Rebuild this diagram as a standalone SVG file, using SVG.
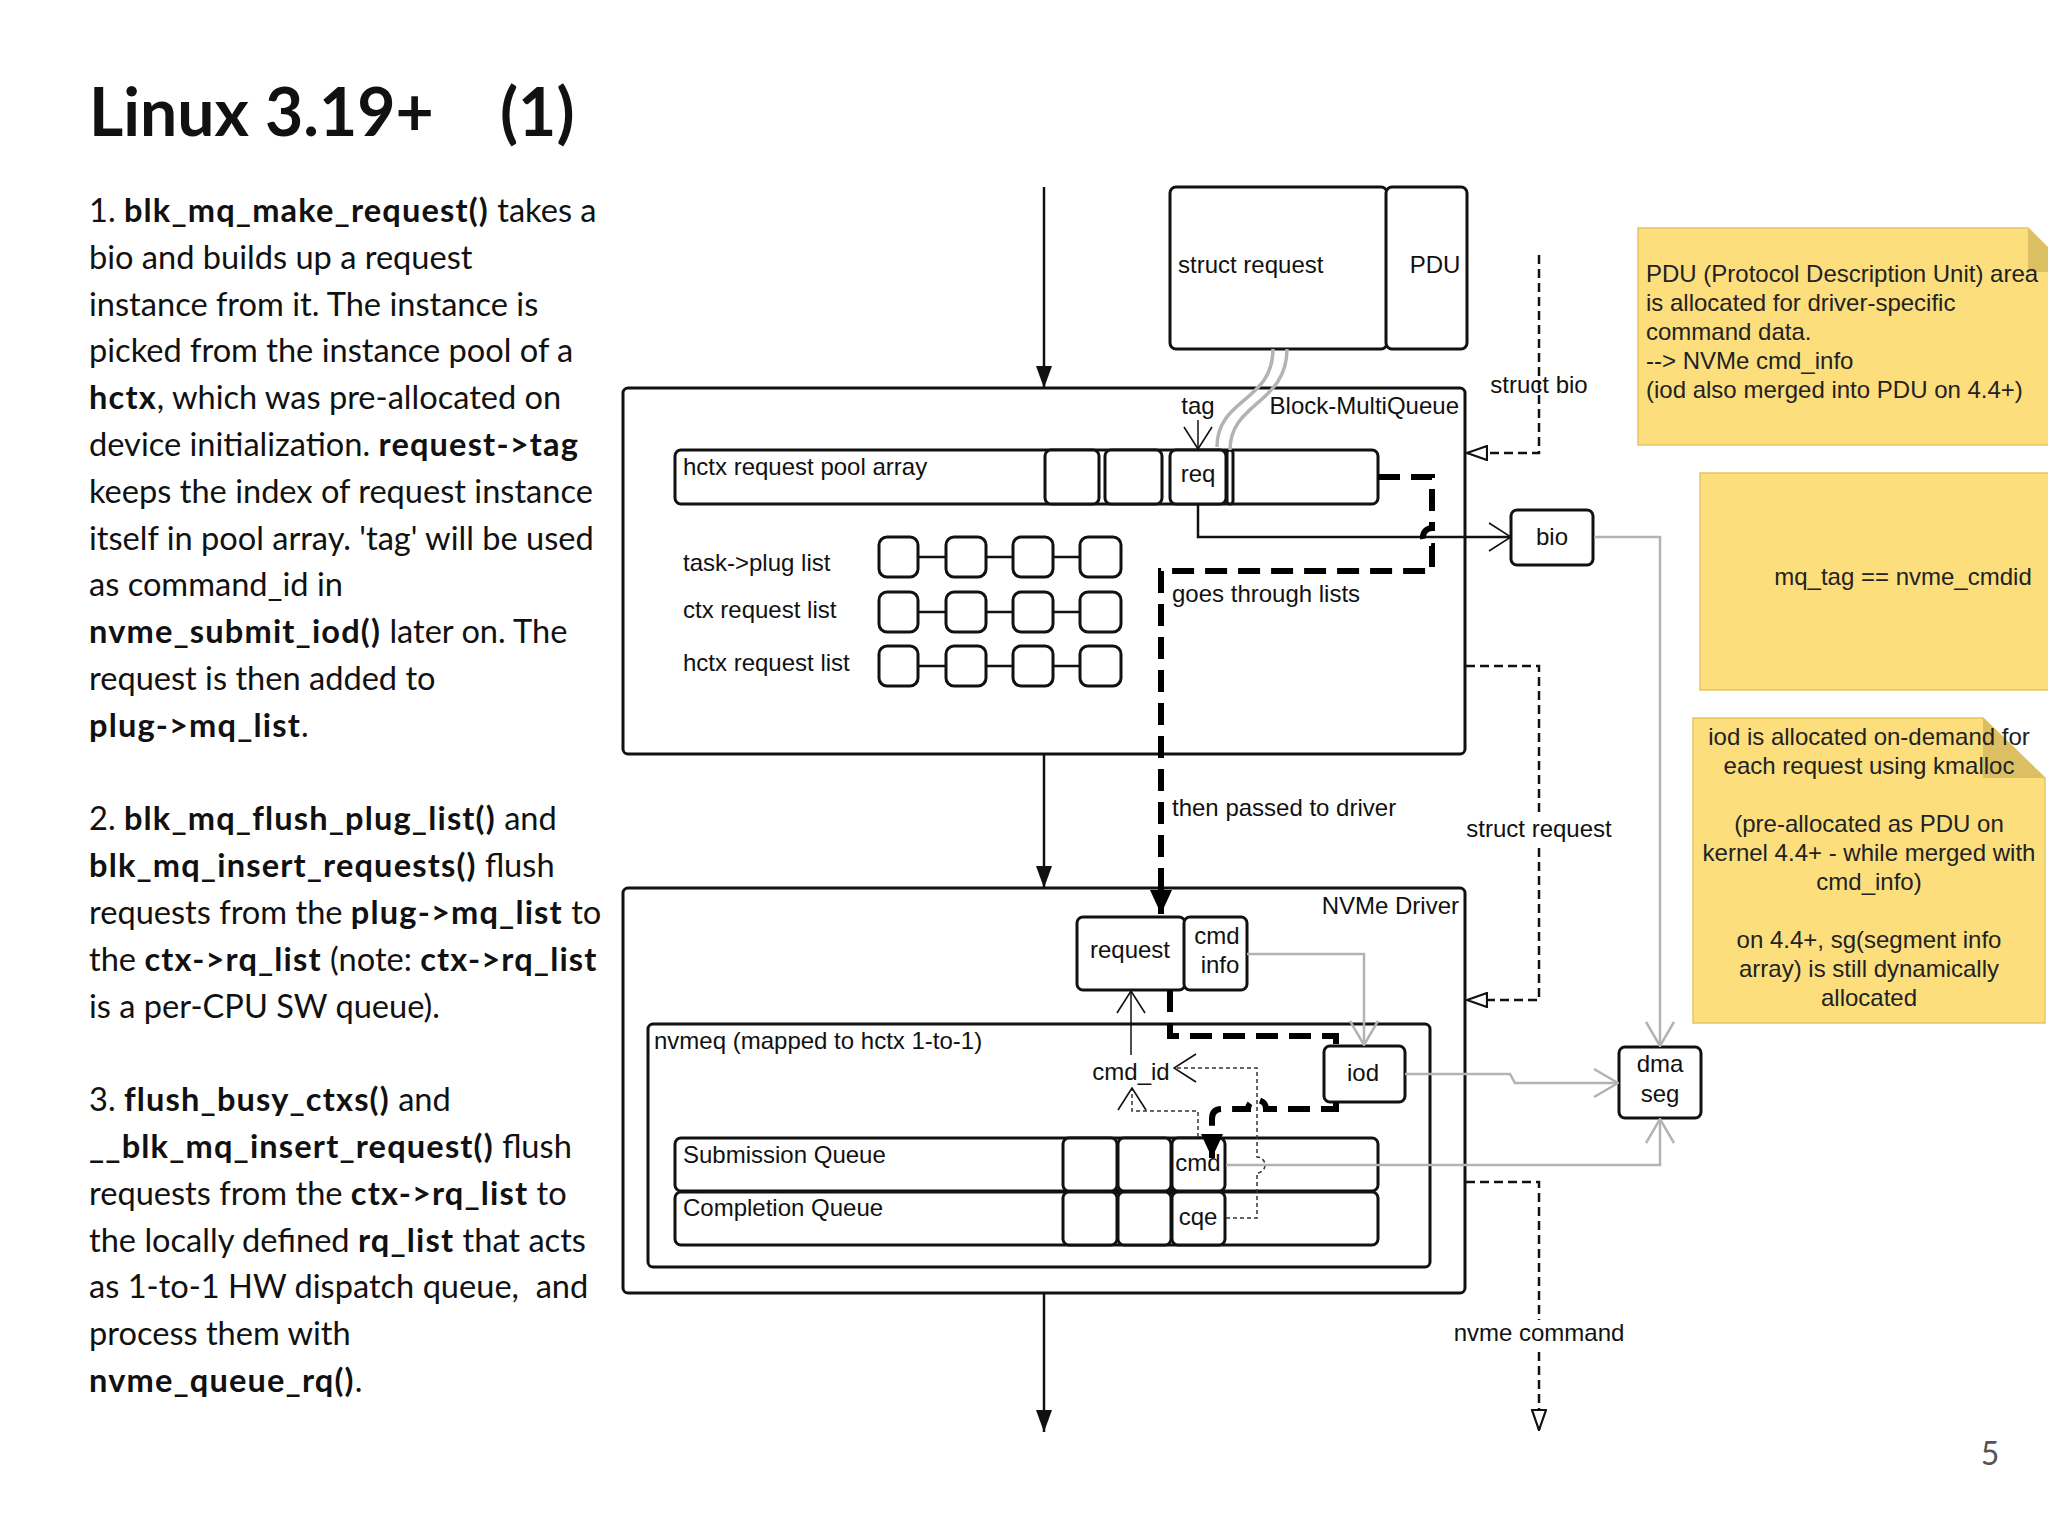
<svg xmlns="http://www.w3.org/2000/svg" width="2048" height="1536" viewBox="0 0 2048 1536">
<defs>
<style>
.title{font-family:Lato,"Noto Sans",sans-serif;font-size:66px;font-weight:700;fill:#111}
.body{font-family:Lato,"Noto Sans",sans-serif;font-size:32.6px;fill:#111}
.b{font-weight:700;letter-spacing:1.15px}
.d{font-family:"Liberation Sans",Arial,sans-serif;font-size:24px;fill:#111}
.m{text-anchor:middle}
.e{text-anchor:end}
.box{fill:#fff;stroke:#111;stroke-width:3}
.ln{fill:none;stroke:#111;stroke-width:2.5}
.thin{fill:none;stroke:#111;stroke-width:1.5}
.gray{fill:none;stroke:#b3b3b3;stroke-width:2.5}
.dash{fill:none;stroke:#111;stroke-width:2.5;stroke-dasharray:9 5}
.dot{fill:none;stroke:#333;stroke-width:1.5;stroke-dasharray:4 3}
.thick{fill:none;stroke:#000;stroke-width:6;stroke-dasharray:22 11}
.note{fill:#fcde7c;stroke:#e6c560;stroke-width:1.5}
.fold{fill:#dcbf62}
.ntxt{font-family:"Liberation Sans",Arial,sans-serif;font-size:24px;fill:#222}
</style>
<marker id="fa" viewBox="0 0 22 16" refX="22" refY="8" markerWidth="22" markerHeight="16" markerUnits="userSpaceOnUse" orient="auto"><path d="M0,0 L22,8 L0,16 z" fill="#111"/></marker>
<marker id="fb" viewBox="0 0 24 22" refX="24" refY="11" markerWidth="24" markerHeight="22" markerUnits="userSpaceOnUse" orient="auto"><path d="M0,0 L24,11 L0,22 z" fill="#000"/></marker>
<marker id="vb" viewBox="0 0 24 30" refX="23" refY="15" markerWidth="24" markerHeight="30" markerUnits="userSpaceOnUse" orient="auto"><path d="M1,1 L23,15 L1,29" fill="none" stroke="#111" stroke-width="1.6"/></marker>
<marker id="vg" viewBox="0 0 26 30" refX="25" refY="15" markerWidth="26" markerHeight="30" markerUnits="userSpaceOnUse" orient="auto"><path d="M1,1 L25,15 L1,29" fill="none" stroke="#b3b3b3" stroke-width="2.5"/></marker>
<marker id="ht" viewBox="0 0 22 16" refX="21" refY="8" markerWidth="22" markerHeight="16" markerUnits="userSpaceOnUse" orient="auto"><path d="M1,1 L21,8 L1,15 z" fill="#fff" stroke="#111" stroke-width="2.2"/></marker>
</defs>
<rect width="2048" height="1536" fill="#fff"/>

<g id="text-left">
<text class="title" x="89" y="136">Linux 3.19+</text>
<text class="title" x="500" y="136">(1)</text>
<text class="body" x="89" y="222">1. <tspan class="b">blk_mq_make_request()</tspan> takes a</text>
<text class="body" x="89" y="268.8">bio and builds up a request</text>
<text class="body" x="89" y="315.6">instance from it. The instance is</text>
<text class="body" x="89" y="362.4">picked from the instance pool of a</text>
<text class="body" x="89" y="409.2"><tspan class="b">hctx</tspan>, which was pre-allocated on</text>
<text class="body" x="89" y="456">device initialization. <tspan class="b">request-&gt;tag</tspan></text>
<text class="body" x="89" y="502.8">keeps the index of request instance</text>
<text class="body" x="89" y="549.6">itself in pool array. 'tag' will be used</text>
<text class="body" x="89" y="596.4">as command_id in</text>
<text class="body" x="89" y="643.2"><tspan class="b">nvme_submit_iod()</tspan> later on. The</text>
<text class="body" x="89" y="690">request is then added to</text>
<text class="body" x="89" y="736.8"><tspan class="b">plug-&gt;mq_list</tspan>.</text>
<text class="body" x="89" y="830.4">2. <tspan class="b">blk_mq_flush_plug_list()</tspan> and</text>
<text class="body" x="89" y="877.2"><tspan class="b">blk_mq_insert_requests()</tspan> flush</text>
<text class="body" x="89" y="924">requests from the <tspan class="b">plug-&gt;mq_list</tspan> to</text>
<text class="body" x="89" y="970.8">the <tspan class="b">ctx-&gt;rq_list</tspan> (note: <tspan class="b">ctx-&gt;rq_list</tspan></text>
<text class="body" x="89" y="1017.6">is a per-CPU SW queue).</text>
<text class="body" x="89" y="1111.2">3. <tspan class="b">flush_busy_ctxs()</tspan> and</text>
<text class="body" x="89" y="1158"><tspan class="b">__blk_mq_insert_request()</tspan> flush</text>
<text class="body" x="89" y="1204.8">requests from the <tspan class="b">ctx-&gt;rq_list</tspan> to</text>
<text class="body" x="89" y="1251.6">the locally defined <tspan class="b">rq_list</tspan> that acts</text>
<text class="body" x="89" y="1298.4">as 1-to-1 HW dispatch queue,&#160; and</text>
<text class="body" x="89" y="1345.2">process them with</text>
<text class="body" x="89" y="1392"><tspan class="b">nvme_queue_rq()</tspan>.</text>
<text x="1990" y="1465" style="font-family:Lato,sans-serif;font-size:32px;fill:#555" text-anchor="middle">5</text>
</g>

<g id="block-mq">
<rect class="box" x="623" y="388" width="842" height="366" rx="5"/>
<text class="d e" x="1459" y="414">Block-MultiQueue</text>
<text class="d m" x="1198" y="414">tag</text>
</g>

<g id="pool-array">
<rect class="box" x="675" y="450" width="703" height="54" rx="6"/>
<rect class="box" x="1045" y="450" width="54" height="54" rx="6"/>
<rect class="box" x="1105" y="450" width="57" height="54" rx="6"/>
<rect class="box" x="1170" y="450" width="56" height="54" rx="6"/>
<rect class="box" x="1227" y="450" width="6" height="54" rx="3"/>
<text class="d" x="683" y="475">hctx request pool array</text>
<text class="d m" x="1198" y="482">req</text>
</g>

<g id="lists">
<text class="d" x="683" y="571">task-&gt;plug list</text>
<text class="d" x="683" y="618">ctx request list</text>
<text class="d" x="683" y="671">hctx request list</text>
<path class="ln" d="M918,557 H946 M986,557 H1013 M1053,557 H1080 M918,612 H946 M986,612 H1013 M1053,612 H1080 M918,666 H946 M986,666 H1013 M1053,666 H1080"/>
<rect class="box" x="879" y="537" width="39" height="40" rx="8"/>
<rect class="box" x="946" y="537" width="40" height="40" rx="8"/>
<rect class="box" x="1013" y="537" width="40" height="40" rx="8"/>
<rect class="box" x="1080" y="537" width="41" height="40" rx="8"/>
<rect class="box" x="879" y="592" width="39" height="40" rx="8"/>
<rect class="box" x="946" y="592" width="40" height="40" rx="8"/>
<rect class="box" x="1013" y="592" width="40" height="40" rx="8"/>
<rect class="box" x="1080" y="592" width="41" height="40" rx="8"/>
<rect class="box" x="879" y="646" width="39" height="40" rx="8"/>
<rect class="box" x="946" y="646" width="40" height="40" rx="8"/>
<rect class="box" x="1013" y="646" width="40" height="40" rx="8"/>
<rect class="box" x="1080" y="646" width="41" height="40" rx="8"/>
</g>

<g id="struct-request">
<rect class="box" x="1170" y="187" width="217" height="162" rx="6"/>
<rect class="box" x="1386" y="187" width="81" height="162" rx="6"/>
<text class="d" x="1178" y="273">struct request</text>
<text class="d m" x="1435" y="273">PDU</text>
</g>

<g id="bio">
<rect class="box" x="1511" y="510" width="82" height="55" rx="6"/>
<text class="d m" x="1552" y="545">bio</text>
</g>

<g id="nvme-driver">
<rect class="box" x="623" y="888" width="842" height="405" rx="5"/>
<text class="d e" x="1459" y="914">NVMe Driver</text>
</g>

<g id="nvme-request">
<rect class="box" x="1077" y="917" width="108" height="73" rx="6"/>
<rect class="box" x="1184" y="917" width="63" height="73" rx="6"/>
<text class="d m" x="1130" y="958">request</text>
<text class="d m" x="1217" y="944">cmd</text>
<text class="d m" x="1220" y="973">info</text>
</g>

<g id="nvmeq">
<rect class="box" x="648" y="1024" width="782" height="243" rx="5"/>
<text class="d" x="654" y="1049">nvmeq (mapped to hctx 1-to-1)</text>
</g>

<g id="iod">
<rect class="box" x="1324" y="1046" width="81" height="56" rx="6"/>
<text class="d m" x="1363" y="1081">iod</text>
</g>

<g id="queues">
<rect class="box" x="675" y="1138" width="703" height="53" rx="6"/>
<rect class="box" x="675" y="1192" width="703" height="53" rx="6"/>
<rect class="box" x="1063" y="1138" width="54" height="53" rx="6"/>
<rect class="box" x="1118" y="1138" width="53" height="53" rx="6"/>
<rect class="box" x="1172" y="1138" width="53" height="53" rx="6"/>
<rect class="box" x="1063" y="1192" width="54" height="53" rx="6"/>
<rect class="box" x="1118" y="1192" width="53" height="53" rx="6"/>
<rect class="box" x="1172" y="1192" width="53" height="53" rx="6"/>
<circle cx="1117.5" cy="1191.5" r="3" fill="#111"/>
<circle cx="1171.5" cy="1191.5" r="3" fill="#111"/>
<text class="d" x="683" y="1163">Submission Queue</text>
<text class="d" x="683" y="1216">Completion Queue</text>
<text class="d m" x="1198" y="1171">cmd</text>
<text class="d m" x="1198" y="1225">cqe</text>
</g>

<g id="dma-seg">
<rect class="box" x="1619" y="1047" width="82" height="71" rx="6"/>
<text class="d m" x="1660" y="1072">dma</text>
<text class="d m" x="1660" y="1102">seg</text>
</g>

<g id="notes">
<path class="note" d="M1638,228 H2028 L2072,272 V445 H1638 Z"/>
<path class="fold" d="M2028,228 V272 H2072 Z"/>
<text class="ntxt" x="1646" y="282">PDU (Protocol Description Unit) area</text>
<text class="ntxt" x="1646" y="311">is allocated for driver-specific</text>
<text class="ntxt" x="1646" y="340">command data.</text>
<text class="ntxt" x="1646" y="369">--&gt; NVMe cmd_info</text>
<text class="ntxt" x="1646" y="398">(iod also merged into PDU on 4.4+)</text>
<path class="note" d="M1700,473 H2070 V690 H1700 Z"/>
<text class="ntxt m" x="1903" y="585">mq_tag == nvme_cmdid</text>
<path class="note" d="M1693,718 H1983 L2045,778 V1023 H1693 Z"/>
<path class="fold" d="M1983,718 V778 H2045 Z"/>
<text class="ntxt m" x="1869" y="745">iod is allocated on-demand for</text>
<text class="ntxt m" x="1869" y="774">each request using kmalloc</text>
<text class="ntxt m" x="1869" y="832">(pre-allocated as PDU on</text>
<text class="ntxt m" x="1869" y="861">kernel 4.4+ - while merged with</text>
<text class="ntxt m" x="1869" y="890">cmd_info)</text>
<text class="ntxt m" x="1869" y="948">on 4.4+, sg(segment info</text>
<text class="ntxt m" x="1869" y="977">array) is still dynamically</text>
<text class="ntxt m" x="1869" y="1006">allocated</text>
</g>

<g id="connectors">
<path class="ln" d="M1044,187 V388" marker-end="url(#fa)"/>
<path class="ln" d="M1044,754 V888" marker-end="url(#fa)"/>
<path class="ln" d="M1044,1293 V1432" marker-end="url(#fa)"/>
<path d="M1273,349 C1273,402 1217,398 1217,447" fill="none" stroke="#b3b3b3" stroke-width="3.5"/>
<path d="M1287,349 C1287,404 1230,402 1230,450" fill="none" stroke="#b3b3b3" stroke-width="3.5"/>
<path class="thin" d="M1198,420 V449" marker-end="url(#vb)"/>
<path class="ln" d="M1198,504 V537 H1511" marker-end="url(#vb)"/>
<path class="thick" d="M1378,477 H1432 V528 A9,9 0 0 0 1432,546 V571 H1161 V914" marker-end="url(#fb)"/>
<path class="thick" d="M1170,990 V1036 H1336 V1046"/>
<path class="thick" d="M1336,1102 V1109 H1266 A9,9 0 0 0 1248,1109 H1222 Q1212,1109 1212,1119 V1158" marker-end="url(#fb)"/>
<path class="thin" d="M1131,1055 V991" marker-end="url(#vb)"/>
<path class="dot" d="M1226,1218 H1257 V1173 A8,8 0 0 0 1257,1157 V1068 H1174" marker-end="url(#vb)"/>
<path class="dot" d="M1198,1137 V1111 H1132 V1088" marker-end="url(#vb)"/>
<path class="gray" d="M1247,954 H1364 V1045" marker-end="url(#vg)"/>
<path class="gray" d="M1405,1074 H1510 L1515,1083 H1618" marker-end="url(#vg)"/>
<path class="gray" d="M1594,537 H1660 V1046" marker-end="url(#vg)"/>
<path class="gray" d="M1226,1165 H1660 V1119" marker-end="url(#vg)"/>
<path class="dash" d="M1539,255 V453 H1467" marker-end="url(#ht)"/>
<path class="dash" d="M1466,666 H1539 V815 M1539,848 V1000 H1467" marker-end="url(#ht)"/>
<path class="dash" d="M1466,1182 H1539 V1320 M1539,1352 V1430" marker-end="url(#ht)"/>
<text class="d m" x="1539" y="393">struct bio</text>
<text class="d m" x="1539" y="837">struct request</text>
<text class="d m" x="1539" y="1341">nvme command</text>
<text class="d" x="1172" y="602">goes through lists</text>
<text class="d" x="1172" y="816">then passed to driver</text>
<text class="d m" x="1131" y="1080">cmd_id</text>
</g>
</svg>
